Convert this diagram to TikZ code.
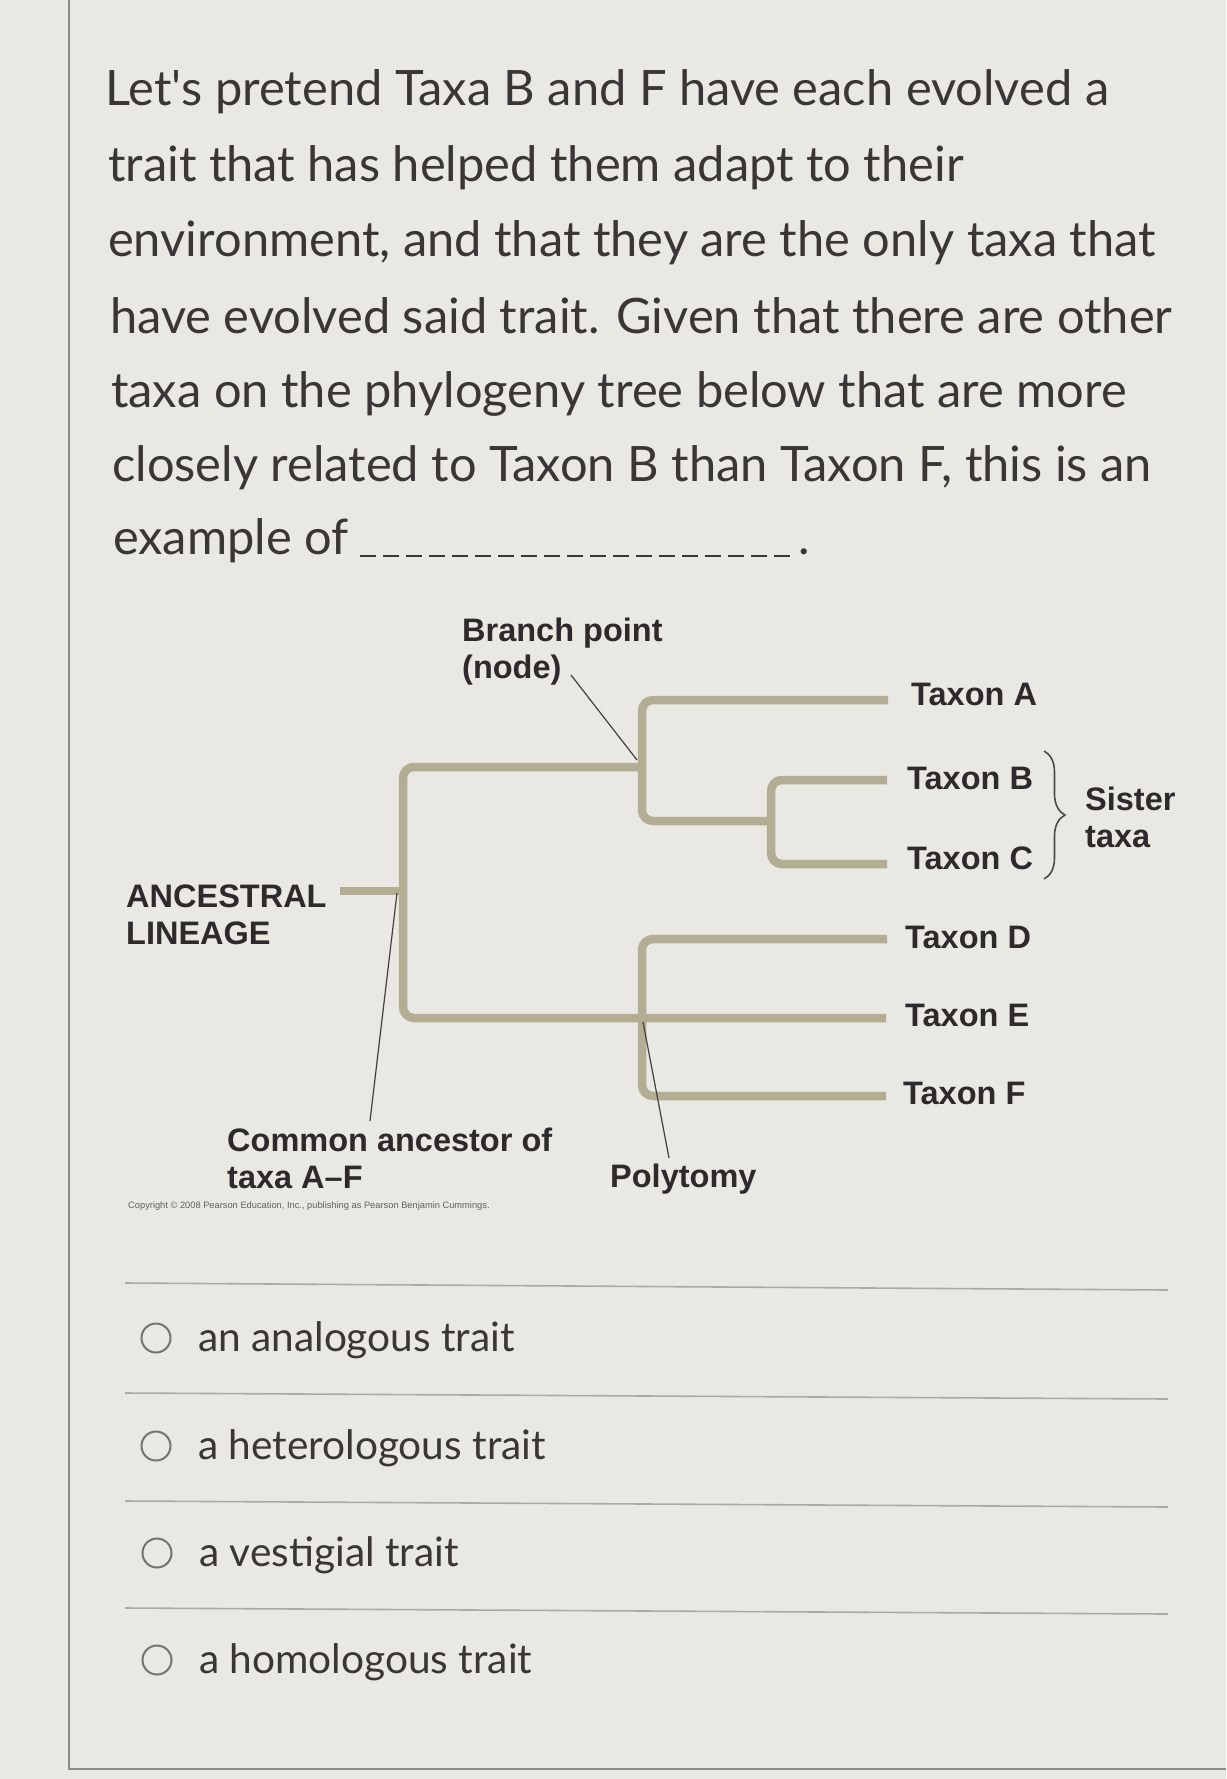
\documentclass[tikz,border=0pt]{standalone}
\usepackage{fontspec}
\setmainfont{Lato}
\newfontfamily\figfont{Liberation Sans}
\usetikzlibrary{decorations.pathreplacing}
\definecolor{pageBg}{HTML}{E9E8E3}
\definecolor{frameGray}{HTML}{8C8C88}
\definecolor{ruleGray}{HTML}{ABAAA6}
\definecolor{branchTan}{HTML}{B3AE93}
\definecolor{inkDark}{HTML}{2E2A2B}
\definecolor{textDark}{HTML}{3A3636}

\tikzset{
  qline/.style={anchor=base west, inner sep=0pt, text=textDark, font=\fontsize{48.8}{56}\selectfont},
  answer/.style={anchor=base west, inner sep=0pt, text=textDark, font=\fontsize{40.6}{48}\selectfont},
  radio/.style={circle, draw=gray!90!black, line width=2pt, minimum size=29pt, inner sep=0pt},
  sepline/.style={draw=ruleGray, line width=1.6pt},
  taxlabel/.style={anchor=west, inner sep=0pt, text=inkDark, font=\figfont\bfseries\fontsize{32.5}{37}\selectfont},
  figlabel/.style={inner sep=0pt, text=inkDark, align=left, font=\figfont\bfseries\fontsize{32.5}{37}\selectfont},
  branch/.style={draw=branchTan, line width=8.5pt, rounded corners=11pt},
  pointer/.style={draw=inkDark!90, line width=1.2pt}
}

\begin{document}
\begin{tikzpicture}[x=1pt, y=-1pt]
  % page and frame
  \fill[pageBg] (0,0) rectangle (1226,1779);
  \useasboundingbox (0,0) rectangle (1226,1779);
  \draw[frameGray, line width=2.2pt] (69,0) -- (69,1769) -- (1226,1769);

  % question
  \node[qline] (q1) at (105,106) {Let\textquotesingle s pretend Taxa B and F have each evolved a};
  \node[qline] (q2) at (108,182) {trait that has helped them adapt to their};
  \node[qline] (q3) at (108,257) {environment, and that they are the only taxa that};
  \node[qline] (q4) at (110,333) {have evolved said trait. Given that there are other};
  \node[qline] (q5) at (111,407) {taxa on the phylogeny tree below that are more};
  \node[qline] (q6) at (112,481) {closely related to Taxon B than Taxon F, this is an};
  \node[qline] (q7) at (113,554) {example of};
  \coordinate (blankL) at (360,556);
  \coordinate (blankR) at (797,556);
  \draw[textDark, line width=2.4pt, dash pattern=on 16pt off 7pt] (blankL) -- (blankR);
  \node[qline] (qdot) at (798,554) {.};

  % tree
  \coordinate (stub) at (340,891);
  \coordinate (root) at (403,891);
  \coordinate (nA) at (642,767);
  \coordinate (nBC) at (771,821);
  \coordinate (nDEF) at (642,1018);
  \coordinate (tipA) at (888,700);
  \coordinate (tipB) at (887,780);
  \coordinate (tipC) at (887,864);
  \coordinate (tipD) at (887,939);
  \coordinate (tipE) at (886,1018);
  \coordinate (tipF) at (886,1096);

  \draw[branch] (stub) -- (root);
  \draw[branch] (nA) -| (root) |- (tipE);
  \draw[branch] (tipA) -| (nA) |- (nBC);
  \draw[branch] (tipB) -| (nBC) |- (tipC);
  \draw[branch] (tipD) -| (nDEF) |- (tipF);

  % taxa
  \node[taxlabel] (taxA) at (911,694) {Taxon A};
  \node[taxlabel] (taxB) at (907,778) {Taxon B};
  \node[taxlabel] (taxC) at (907,858) {Taxon C};
  \node[taxlabel] (taxD) at (905,937) {Taxon D};
  \node[taxlabel] (taxE) at (905,1015) {Taxon E};
  \node[taxlabel] (taxF) at (903,1093) {Taxon F};

  \coordinate (braceTop) at (1044,751);
  \coordinate (braceBot) at (1044,879);
  \draw[inkDark!85, line width=1.6pt, decorate, decoration={brace, amplitude=21pt}] (braceTop) -- (braceBot);
  \node[figlabel, anchor=west] (sister) at (1085,817) {Sister\\taxa};

  % labels and pointers
  \node[figlabel, anchor=north west] (branchpt) at (462,618) {Branch point\\(node)};
  \coordinate (bpTail) at (571,675);
  \coordinate (bpHead) at (637,760);
  \draw[pointer] (bpTail) -- (bpHead);

  \node[figlabel, anchor=north west] (ancestral) at (126,885) {ANCESTRAL\\LINEAGE};

  \node[figlabel, anchor=north west] (common) at (227,1128) {Common ancestor of\\taxa A\textendash F};
  \coordinate (caTail) at (370,1121);
  \coordinate (caHead) at (397,893);
  \draw[pointer] (caTail) -- (caHead);

  \node[figlabel, anchor=north west] (polytomy) at (610,1164) {Polytomy};
  \coordinate (ptTail) at (669,1158);
  \coordinate (ptHead) at (643,1022);
  \draw[pointer] (ptTail) -- (ptHead);

  \node[anchor=west, inner sep=0pt, text=gray!75!black, font=\figfont\fontsize{9.3}{11}\selectfont] (copyright) at (128,1206)
    {Copyright \textcopyright{} 2008 Pearson Education, Inc., publishing as Pearson Benjamin Cummings.};

  % answers
  \coordinate (s1L) at (125,1283); \coordinate (s1R) at (1168,1290);
  \coordinate (s2L) at (125,1393); \coordinate (s2R) at (1168,1399);
  \coordinate (s3L) at (125,1501); \coordinate (s3R) at (1168,1507);
  \coordinate (s4L) at (125,1608); \coordinate (s4R) at (1168,1614);
  \draw[sepline] (s1L) -- (s1R);
  \draw[sepline] (s2L) -- (s2R);
  \draw[sepline] (s3L) -- (s3R);
  \draw[sepline] (s4L) -- (s4R);

  \node[radio] (r1) at (156,1338) {};
  \node[radio] (r2) at (156,1446) {};
  \node[radio] (r3) at (157,1553) {};
  \node[radio] (r4) at (157,1660) {};
  \node[answer] (a1) at (198,1351) {an analogous trait};
  \node[answer] (a2) at (198,1459) {a heterologous trait};
  \node[answer] (a3) at (199,1566) {a vestigial trait};
  \node[answer] (a4) at (199,1673) {a homologous trait};
\end{tikzpicture}
\end{document}
